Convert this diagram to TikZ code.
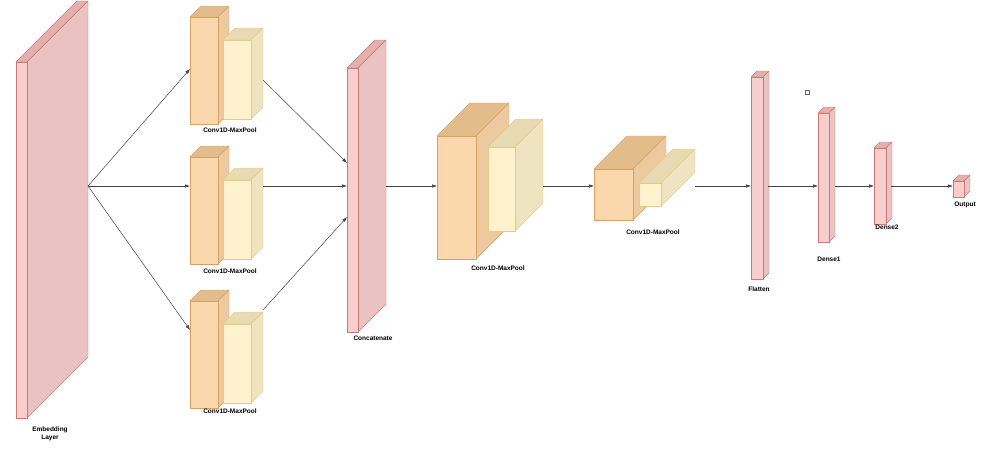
\documentclass[tikz,border=0pt]{standalone}
\usepackage{fontspec}
\setmainfont{Liberation Sans}
\usetikzlibrary{arrows.meta}
\definecolor{orF}{HTML}{FAD7AC}\definecolor{orS}{HTML}{EDC99F}\definecolor{orT}{HTML}{E3BC8C}\definecolor{orD}{HTML}{D9A066}
\definecolor{yeF}{HTML}{FFF2CC}\definecolor{yeS}{HTML}{F0E3C0}\definecolor{yeT}{HTML}{E8DAB2}\definecolor{yeD}{HTML}{E0CC88}
\definecolor{piF}{HTML}{F8CECC}\definecolor{piS}{HTML}{EBC2C2}\definecolor{piT}{HTML}{E3B0AE}\definecolor{piD}{HTML}{C97A76}
% #1 x, #2 y, #3 w, #4 h, #5 d, #6 prefix
\newcommand{\cub}[6]{%
 \filldraw[fill=#6T,draw=#6D,line join=round] (#1,#2) -- ++(#5,-#5) -- ++(#3,0) -- ++(-#5,#5) -- cycle;
 \filldraw[fill=#6S,draw=#6D,line join=round] (#1+#3,#2) -- ++(#5,-#5) -- ++(0,#4) -- ++(-#5,#5) -- cycle;
 \filldraw[fill=#6F,draw=#6D] (#1,#2) rectangle ++(#3,#4);}
\tikzset{lbl/.style={font=\bfseries\fontsize{6.5}{7.5}\selectfont,align=center},
 arr/.style={-{Latex[length=5pt,width=3.5pt]},draw=black!75,line width=0.5pt}}
\begin{document}
\begin{tikzpicture}[x=1pt,y=-1pt]
\useasboundingbox (0,0) rectangle (990,458);
\cub{16}{62}{11}{356}{61}{pi}
\node[lbl] (emb) at (50,434) {Embedding\\Layer};
% branches
\foreach \oy/\yy/\n in {0/0/a,140/0/b,284/0/c}{
 \cub{190}{17+\oy}{28}{107}{11}{or}
 \cub{223}{40+\oy}{28}{79}{12}{ye}
}
\node[lbl] (la) at (230,130) {Conv1D-MaxPool};
\node[lbl] (lb) at (230,271) {Conv1D-MaxPool};
\node[lbl] (lc) at (230,411) {Conv1D-MaxPool};
\cub{347}{68}{11}{264}{28}{pi}
\node[lbl] (lcat) at (373,338) {Concatenate};
\cub{437}{136}{39}{123}{33}{or}
\cub{488}{147}{27}{84}{28}{ye}
\node[lbl] (l4) at (498,268) {Conv1D-MaxPool};
\cub{594}{169}{39}{51}{33}{or}
\cub{639}{183}{22}{23}{34}{ye}
\node[lbl] (l5) at (653,232) {Conv1D-MaxPool};
\cub{751}{77}{12}{202}{6}{pi}
\node[lbl] (lf) at (759,289) {Flatten};
\cub{818}{113}{11}{129}{6}{pi}
\node[lbl] (ld1) at (829,259) {Dense1};
\cub{874}{148}{12}{76}{6}{pi}
\node[lbl] (ld2) at (887,227) {Dense2};
\cub{953}{181}{11}{16}{6}{pi}
\node[lbl] (lo) at (965,205) {Output};
\draw[black!60,line width=0.3pt] (805,90) rectangle (809,94);
% connector coordinates
\coordinate (e) at (88,186);
\coordinate (ai) at (190,69); \coordinate (bi) at (190,186); \coordinate (ci) at (190,330);
\coordinate (ao) at (263,80); \coordinate (bo) at (263,186); \coordinate (co) at (263,310);
\coordinate (ki1) at (347,163); \coordinate (ki2) at (347,186); \coordinate (ki3) at (347,217);
\coordinate (ko) at (386,186); \coordinate (m1i) at (437,186); \coordinate (m1o) at (543,186);
\coordinate (m2i) at (594,186); \coordinate (m2o) at (695,186); \coordinate (fi) at (751,186);
\coordinate (fo) at (768,186); \coordinate (d1i) at (818,186); \coordinate (d1o) at (835,186);
\coordinate (d2i) at (874,186); \coordinate (d2o) at (891,186); \coordinate (oi) at (953,186);
\draw[arr] (e) -- (ai); \draw[arr] (e) -- (bi); \draw[arr] (e) -- (ci);
\draw[arr] (ao) -- (ki1); \draw[arr] (bo) -- (ki2); \draw[arr] (co) -- (ki3);
\draw[arr] (ko) -- (m1i); \draw[arr] (m1o) -- (m2i); \draw[arr] (m2o) -- (fi);
\draw[arr] (fo) -- (d1i); \draw[arr] (d1o) -- (d2i); \draw[arr] (d2o) -- (oi);
\end{tikzpicture}
\end{document}
